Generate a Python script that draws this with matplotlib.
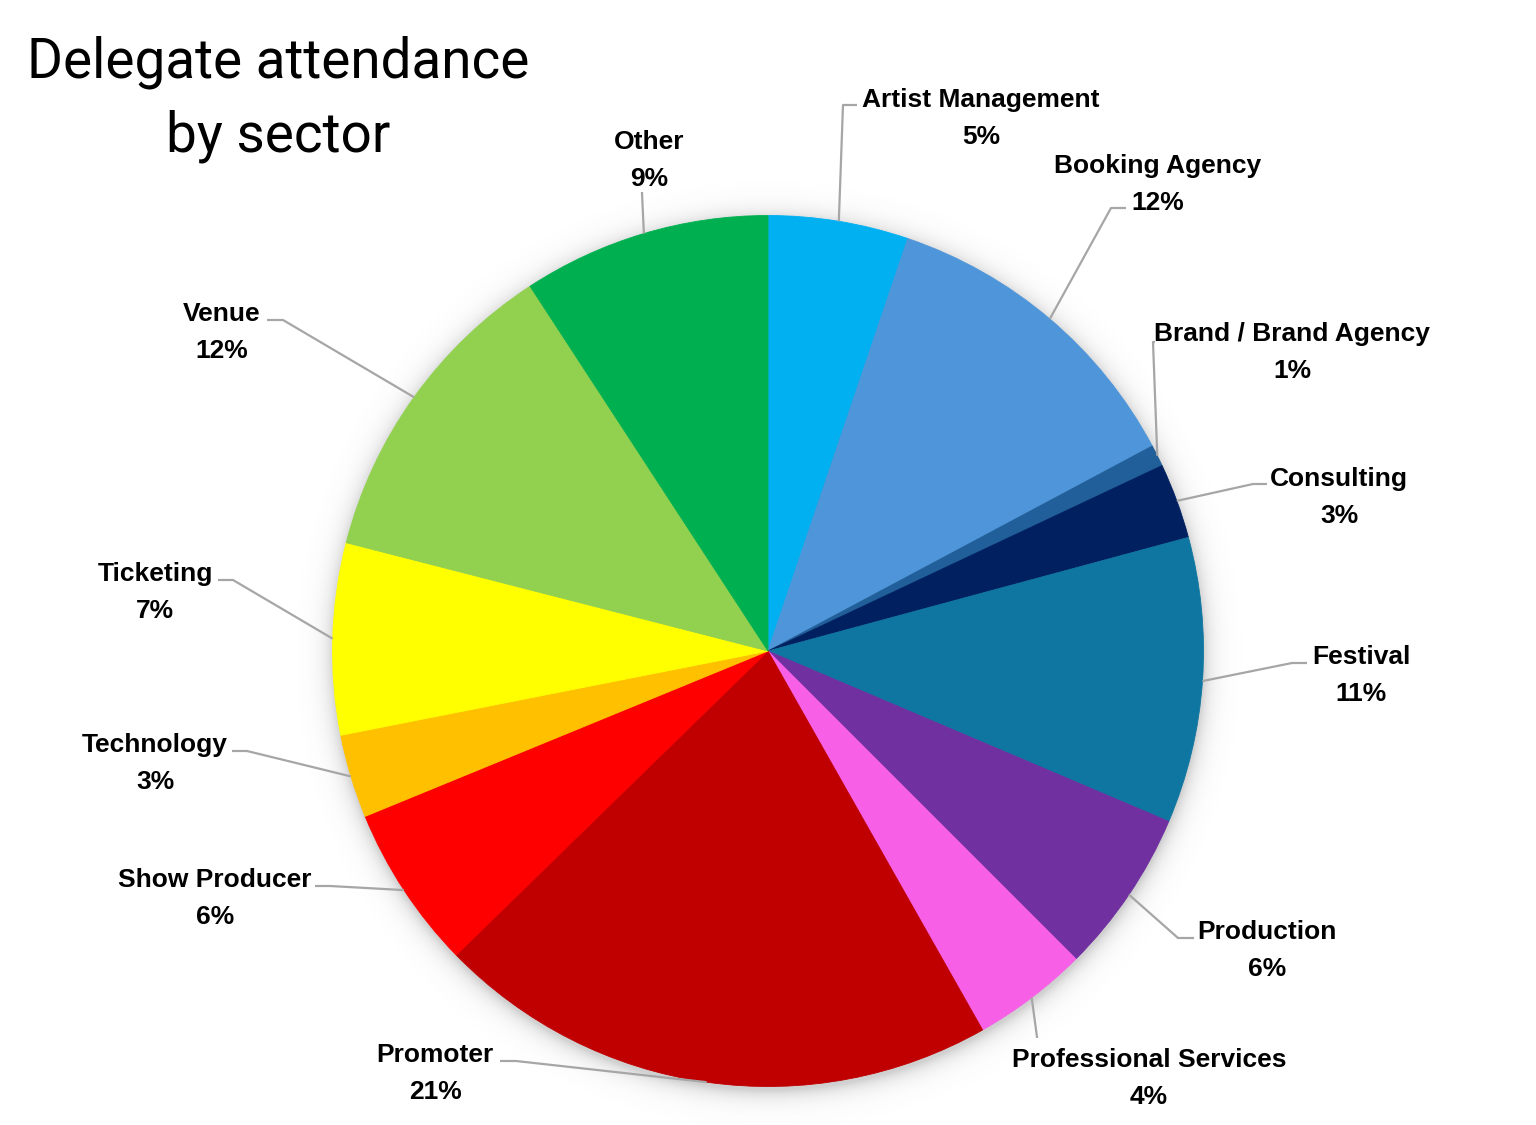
import numpy as np
import matplotlib
matplotlib.use("Agg")
import matplotlib.pyplot as plt
from matplotlib import font_manager

# ---------------- data ----------------
sectors = ["Artist Management", "Booking Agency", "Brand / Brand Agency", "Consulting",
           "Festival", "Production", "Professional Services", "Promoter",
           "Show Producer", "Technology", "Ticketing", "Venue", "Other"]
shares = [5.2, 12.0, 0.8, 2.8, 10.6, 6.1, 4.3, 20.9, 6.1, 3.1, 7.1, 11.8, 9.2]
colors = ["#00B0F0", "#4F95D9", "#215F9A", "#002060", "#0E76A0", "#7030A0",
          "#F760E6", "#C00000", "#FF0000", "#FFC000", "#FFFF00", "#92D050", "#00B050"]
title_lines = ["Delegate attendance", "by sector"]

# ---------------- layout (pixel coords, y from top) ----------------
W, H = 1536, 1125
CX, CY, R = 768, 651, 435.5
# label name-line centre, leader elbow, leader end
label_pos = [(981, 100), (1158, 166), (1292, 334), (1339, 479), (1361, 657),
             (1267, 932), (1149, 1060), (435, 1055), (215, 880), (155, 745),
             (155, 574), (222, 314), (649, 142)]
elbows = [(843, 105), (1111, 208), (1153, 342), (1253, 484), (1292, 663),
          (1178, 938), (1037, 1037), (516, 1061), (330, 886), (247, 751),
          (233, 580), (283, 320), (642, 193)]
ends = [(857, 105), (1126, 208), (1155, 342), (1267, 484), (1307, 663),
        (1194, 938), (1037, 1038), (500, 1061), (315, 886), (232, 751),
        (218, 580), (267, 320), (642, 192)]
LINE_GAP = 37

names = {f.name for f in font_manager.fontManager.ttflist}
label_font = "Liberation Sans Narrow" if "Liberation Sans Narrow" in names else "Liberation Sans"
title_font = "Roboto" if "Roboto" in names else "DejaVu Sans"

fig = plt.figure(figsize=(W / 100, H / 100), dpi=100)
ax = fig.add_axes([0, 0, 1, 1])

def P(x, y):
    return x, H - y

# soft shadow
gx = np.arange(CX - R - 60, CX + R + 60)
gy = np.arange(CY - R - 60, CY + R + 60)
XX, YY = np.meshgrid(gx, gy)
d = np.hypot(XX - CX, YY - (CY + 4)) - R
alpha = 0.28 * np.exp(-np.clip(d, 0, None) / 9.0)
alpha[d > 45] = 0
rgba = np.zeros(XX.shape + (4,))
rgba[..., :3] = 0.35
rgba[..., 3] = alpha
ax.imshow(rgba, extent=(gx[0], gx[-1], H - gy[-1], H - gy[0]), origin="upper",
          zorder=0, interpolation="bilinear")

wedges, _ = ax.pie(shares, colors=colors, startangle=90, counterclock=False,
                   center=P(CX, CY), radius=R, frame=True)
for w in wedges:
    w.set_zorder(2)
    w.set_edgecolor(w.get_facecolor())
    w.set_linewidth(0.6)
ax.set_xlim(0, W)
ax.set_ylim(0, H)
ax.set_aspect("equal")
ax.axis("off")

total = sum(shares)
for i, w in enumerate(wedges):
    ang = np.deg2rad((w.theta1 + w.theta2) / 2)
    ex = CX + R * np.cos(ang)
    ey = CY - R * np.sin(ang)
    xs = [ex, elbows[i][0], ends[i][0]]
    ys = [H - ey, H - elbows[i][1], H - ends[i][1]]
    ax.plot(xs, ys, color="#A6A6A6", lw=1.6, zorder=3, solid_capstyle="butt")
    tx, ty = label_pos[i]
    ax.text(*P(tx, ty), sectors[i], ha="center", va="center", fontsize=19,
            fontweight="bold", family=label_font, color="black", zorder=4)
    ax.text(*P(tx, ty + LINE_GAP), f"{round(shares[i] / total * 100)}%",
            ha="center", va="center", fontsize=19, fontweight="bold",
            family=label_font, color="black", zorder=4)

ax.text(*P(278, 62), title_lines[0], ha="center", va="center", fontsize=39.5,
        family=title_font, color="black")
ax.text(*P(278, 136), title_lines[1], ha="center", va="center", fontsize=39.5,
        family=title_font, color="black")

fig.savefig("out.png", dpi=100, facecolor="white")
